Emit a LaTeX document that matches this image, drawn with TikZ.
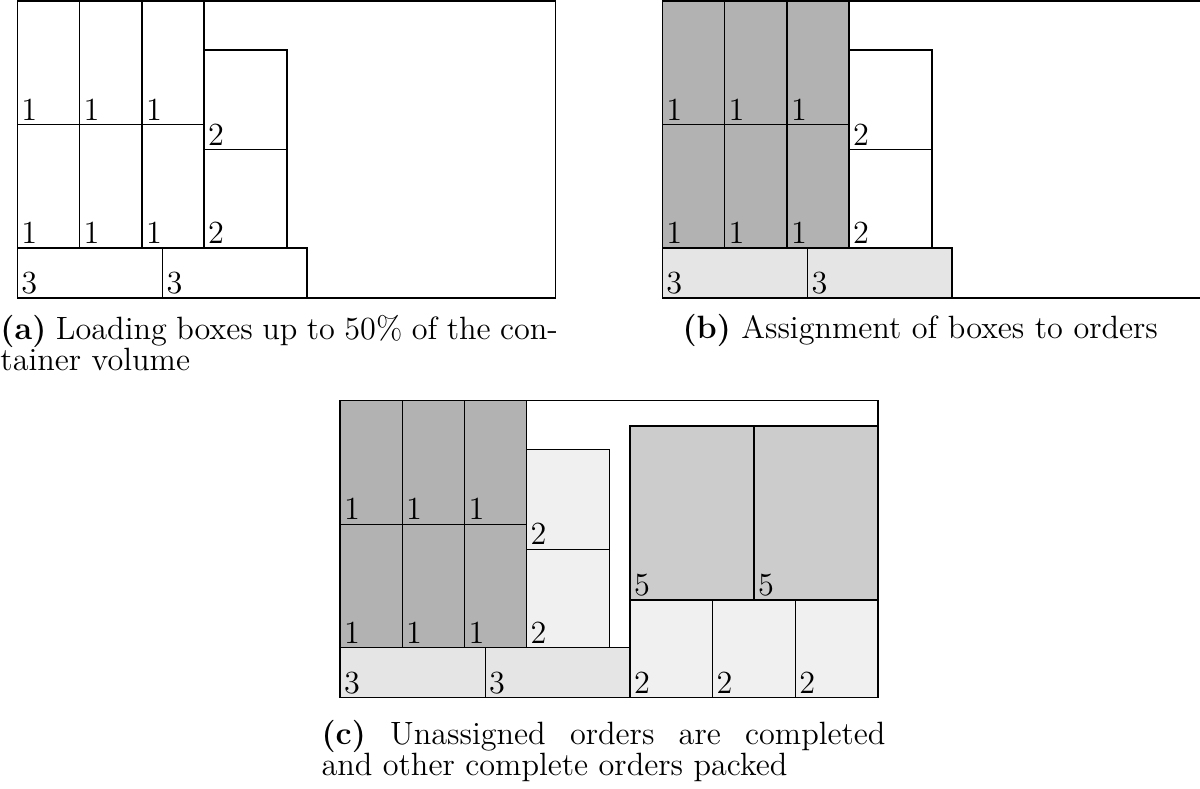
\documentclass[tikz,border=0pt]{standalone}
\begin{document}
\begin{tikzpicture}[x=0.4pt,y=-0.4pt,
  box/.style={draw=black, line width=0.55pt},
  lab/.style={anchor=base west, inner sep=0pt, font=\fontsize{12.9pt}{15pt}\selectfont},
  captxt/.style={anchor=base west, inner sep=0pt, font=\fontsize{12.9pt}{15pt}\selectfont}]
\useasboundingbox (0,0) rectangle (1200,788);
\newcommand\packpanel[6]{%
\begin{scope}[shift={(#1,#2)}]
 \draw[box] (0,0) rectangle (538,297);
 \foreach \xa/\xb/\i in {0/62.2/1,62.2/124.7/2,124.7/186.7/3}{
   \draw[box, fill=#3] (\xa,0) rectangle (\xb,123.5);
   \draw[box, fill=#3] (\xa,123.5) rectangle (\xb,247);
   \node[lab] (#6t\i) at (\xa+3.5,123.5-4.5) {1};
   \node[lab] (#6b\i) at (\xa+3.5,247-4.5) {1};
 }
 \draw[box, fill=#4] (186.7,49) rectangle (269.7,148.5);
 \draw[box, fill=#4] (186.7,148.5) rectangle (269.7,247);
 \node[lab] (#6tw1) at (186.7+3.5,148.5-4.5) {2};
 \node[lab] (#6tw2) at (186.7+3.5,247-4.5) {2};
 \draw[box, fill=#5] (0,247) rectangle (145.2,297);
 \draw[box, fill=#5] (145.2,247) rectangle (289.7,297);
 \node[lab] (#6th1) at (0+3.5,297-4.5) {3};
 \node[lab] (#6th2) at (145.2+3.5,297-4.5) {3};
\end{scope}}
% panel (a)
\packpanel{17.3}{1}{white}{white}{white}{a}
% panel (b)
\packpanel{662.3}{1}{black!30}{white}{black!10}{b}
% panel (c)
\packpanel{340}{400.7}{black!30}{black!6}{black!10}{c}
\begin{scope}[shift={(340,400.7)}]
 \draw[box, fill=black!20] (290,25.3) rectangle (414,199.3);
 \draw[box, fill=black!20] (414,25.3) rectangle (538,199.3);
 \node[lab] (cf1) at (290+3.5,199.3-4.5) {5};
 \node[lab] (cf2) at (414+3.5,199.3-4.5) {5};
 \foreach \xa/\xb/\i in {290/372.7/1,372.7/455.3/2,455.3/538/3}{
   \draw[box, fill=black!6] (\xa,199.3) rectangle (\xb,297);
   \node[lab] (ctr\i) at (\xa+3.5,297-4.5) {2};
 }
\end{scope}
% captions
\node[captxt] (capa1) at (0,339) {\makebox[223pt][s]{\textbf{(a)} Loading boxes up to 50\% of the con-}};
\node[captxt] (capa2) at (0,370) {tainer volume};
\node[captxt] (capb) at (682,338) {\textbf{(b)} Assignment of boxes to orders};
\node[captxt] (capc1) at (321,744) {\makebox[225.6pt][s]{\textbf{(c)} Unassigned orders are completed}};
\node[captxt] (capc2) at (321,775) {and other complete orders packed};
\end{tikzpicture}
\end{document}
